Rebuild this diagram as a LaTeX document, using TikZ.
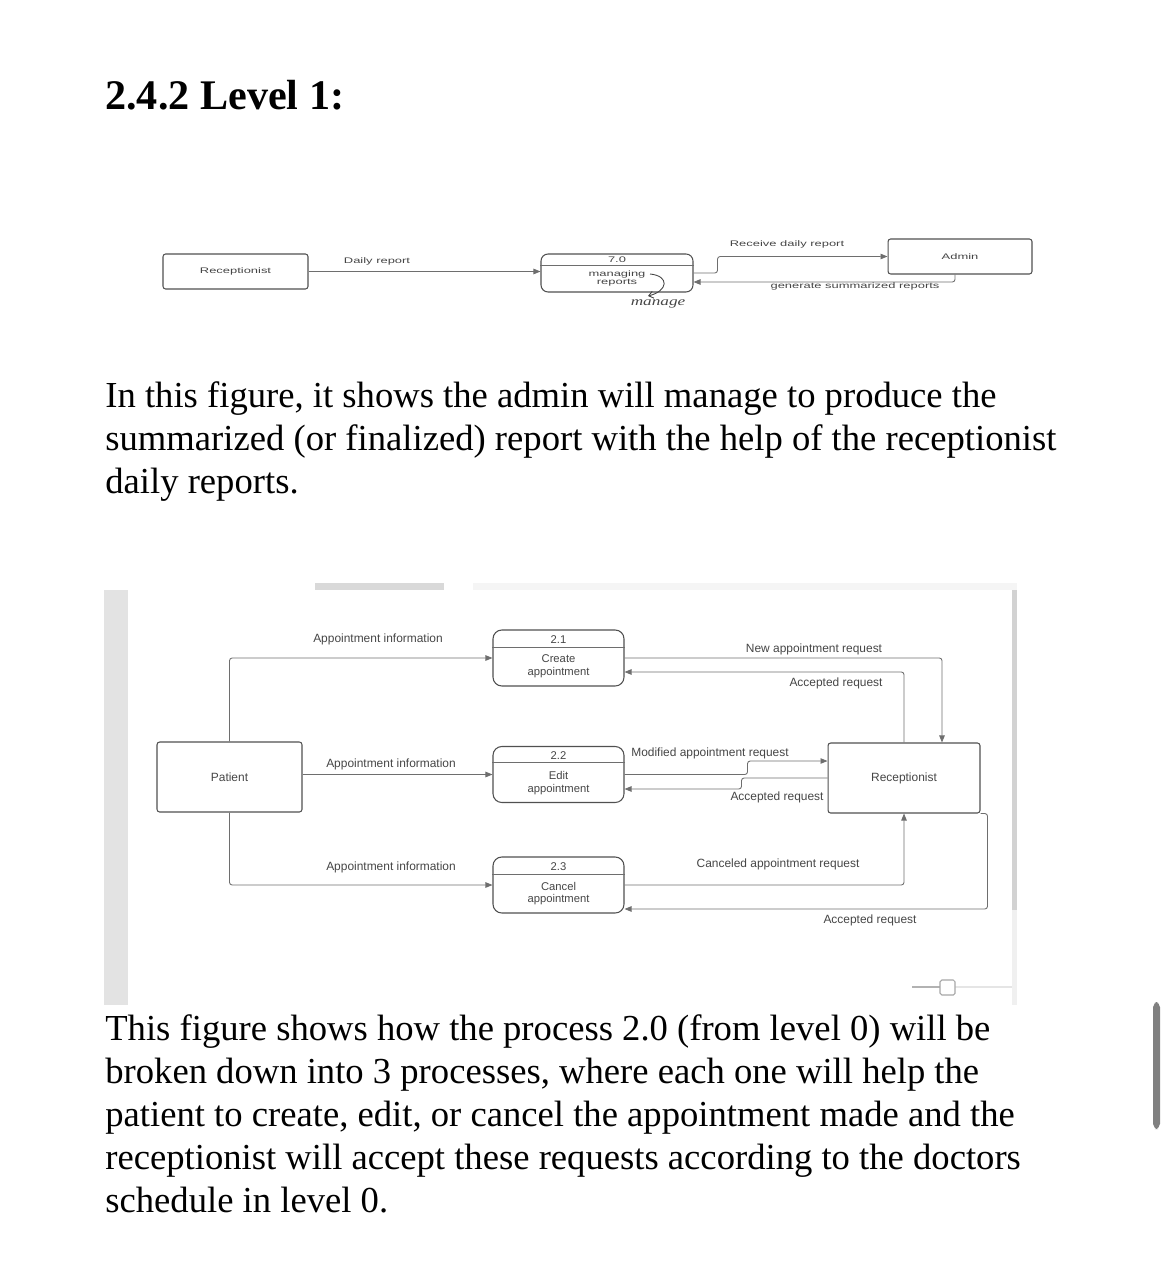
\documentclass[tikz,border=0pt]{standalone}
\usepackage{fontspec}
\setmainfont{Liberation Serif}
\newfontfamily\dfdfont{Liberation Sans}
\usepackage{graphicx}
\usetikzlibrary{positioning,arrows.meta,calc}
\definecolor{lnc}{HTML}{6E6E6E}
\definecolor{bxc}{HTML}{505050}
\definecolor{txc}{HTML}{454545}
\newcommand{\stretchx}[1]{\scalebox{1.6}[1]{#1}}
\tikzset{
  ent/.style   = {draw=bxc, line width=0.6pt, rounded corners=1.5pt, inner sep=0pt,
                  font=\dfdfont\fontsize{6.8}{8}\selectfont, text=txc},
  tent/.style  = {ent, font=\dfdfont\fontsize{4.6}{5.5}\selectfont},
  proc/.style  = {draw=bxc, line width=0.6pt, rounded corners=5pt, inner sep=0pt,
                  minimum width=2.62cm, minimum height=1.12cm},
  div/.style   = {draw=lnc, line width=0.4pt},
  ptxt/.style  = {font=\dfdfont\fontsize{6.4}{7.2}\selectfont, text=txc,
                  align=center, inner sep=0pt},
  lbl/.style   = {font=\dfdfont\fontsize{6.8}{8}\selectfont, text=txc, inner sep=0pt},
  tlbl/.style  = {font=\dfdfont\fontsize{4.6}{4.8}\selectfont, text=txc,
                  align=center, inner sep=0pt},
  ar/.style    = {-{Triangle[length=1.4mm,width=1.1mm]}, draw=lnc, line width=0.5pt,
                  rounded corners=1.5pt},
  hand/.style  = {-{Straight Barb[length=0.9mm,width=1.4mm]}, draw=txc, line width=0.5pt},
  para/.style  = {anchor=base west, inner sep=0pt, font=\fontsize{20.85}{24}\selectfont},
  head/.style  = {anchor=base west, inner sep=0pt, font=\bfseries\fontsize{24}{28}\selectfont},
}
\begin{document}
\begin{tikzpicture}[x=0.02cm, y=-0.02cm]
\useasboundingbox (0,0) rectangle (1170,1263);
\node[head] (hd) at (105,110) {2.4.2 Level 1:};

% level 1: process 7.0
\node[tent, minimum width=2.9cm, minimum height=0.7cm] (rcp) at (235.5,271.5) {\stretchx{Receptionist}};
\node[proc, minimum width=3.04cm, minimum height=0.76cm, rounded corners=4pt] (p70) at (617,273) {};
\draw[div] ([yshift=-0.24cm]p70.north west) -- ([yshift=-0.24cm]p70.north east);
\node[tlbl] (p70n) at ([yshift=-0.12cm]p70.north) {\stretchx{7.0}};
\node[tlbl] (p70t) at ([yshift=0.28cm]p70.south) {\stretchx{managing}\\\stretchx{reports}};
\node[tent, minimum width=2.88cm, minimum height=0.7cm] (adm) at (960,256.5) {\stretchx{Admin}};
\draw[ar] (rcp.east) -- (rcp.east -| p70.west);
\draw[ar] (p70.east) -- ++(24,0) |- (adm.west);
\draw[ar] ([xshift=-0.1cm]adm.south) |- ([yshift=-0.18cm]p70.east);
\node[tlbl] (lday) at (377,261) {\stretchx{Daily report}};
\node[tlbl] (lrcv) at (787,244) {\stretchx{Receive daily report}};
\node[tlbl] (lgen) at (855,286) {\stretchx{generate summarized reports}};
\coordinate (hs) at (650,274);
\node[font=\itshape\fontsize{7}{8}\selectfont, text=txc, inner sep=0pt] (hw) at (658,304) {\scalebox{1.4}[1]{manage}};
\draw[hand] (hs) .. controls (670,276) and (668,291) .. (648,296);

\node[para] (pa1) at (105,407) {In this figure, it shows the admin will manage to produce the};
\node[para] (pa2) at (105,450) {summarized (or finalized) report with the help of the receptionist};
\node[para] (pa3) at (105,493) {daily reports.};

% level 1: process 2.0, screenshot frame
\fill[gray!22] (104,590) rectangle (128,1005);
\fill[gray!30] (315,583) rectangle (444,590);
\fill[gray!8] (473,583) rectangle (1017,590);
\fill[gray!35] (1012,590) rectangle (1017,910);
\fill[gray!12] (1012,910) rectangle (1017,1005);
\draw[gray!60, line width=0.8pt] (912,987) -- (940,987);
\draw[gray!20, line width=0.8pt] (955,987) -- (1012,987);
\draw[gray!70, fill=white, rounded corners=1pt, line width=0.6pt] (940,980) rectangle (955,995);

\node[ent, minimum width=2.9cm, minimum height=1.4cm] (pat) at (229.5,777) {Patient};
\node[proc] (p21) at (558.5,658) {};
\node[proc] (p22) at (558.5,774.5) {};
\node[proc] (p23) at (558.5,885) {};
\node[ent, minimum width=3.04cm, minimum height=1.4cm] (rec) at (904,778) {Receptionist};

\draw[div] ([yshift=-0.36cm]p21.north west) -- ([yshift=-0.36cm]p21.north east);
\draw[div] ([yshift=-0.32cm]p22.north west) -- ([yshift=-0.32cm]p22.north east);
\draw[div] ([yshift=-0.36cm]p23.north west) -- ([yshift=-0.36cm]p23.north east);
\node[ptxt] (p21n) at ([yshift=-0.2cm]p21.north) {2.1};
\node[ptxt] (p21t) at ([yshift=0.4cm]p21.south) {Create\\appointment};
\node[ptxt] (p22n) at ([yshift=-0.2cm]p22.north) {2.2};
\node[ptxt] (p22t) at ([yshift=0.4cm]p22.south) {Edit\\appointment};
\node[ptxt] (p23n) at ([yshift=-0.2cm]p23.north) {2.3};
\node[ptxt] (p23t) at ([yshift=0.4cm]p23.south) {Cancel\\appointment};

\draw[ar] (pat.north) |- (p21.west);
\draw[ar] (pat.east |- p22.west) -- (p22.west);
\draw[ar] (pat.south) |- (p23.west);
\draw[ar] (p21.east) -| ([xshift=0.76cm]rec.north);
\draw[ar] (rec.north) |- ([yshift=-0.28cm]p21.east);
\draw[ar] (p22.east) -- ++(123,0) |- ([yshift=0.34cm]rec.west);
\draw[ar] (rec.west) -- ++(-86,0) |- ([yshift=-0.29cm]p22.east);
\draw[ar] (p23.east) -| (rec.south);
\draw[ar] (rec.south east) -- ++(7,0) |- ([yshift=-0.48cm]p23.east);

\node[lbl] (la1) at (378,639) {Appointment information};
\node[lbl] (la2) at (391,764) {Appointment information};
\node[lbl] (la3) at (391,867) {Appointment information};
\node[lbl] (lnew) at (814,649) {New appointment request};
\node[lbl] (lac1) at (836,683) {Accepted request};
\node[lbl] (lmod) at (710,753) {Modified appointment request};
\node[lbl] (lac2) at (777,797) {Accepted request};
\node[lbl] (lcan) at (778,864) {Canceled appointment request};
\node[lbl] (lac3) at (870,920) {Accepted request};

\node[para] (pb1) at (105,1040) {This figure shows how the process 2.0 (from level 0) will be};
\node[para] (pb2) at (105,1083) {broken down into 3 processes, where each one will help the};
\node[para] (pb3) at (105,1126) {patient to create, edit, or cancel the appointment made and the};
\node[para] (pb4) at (105,1169) {receptionist will accept these requests according to the doctors};
\node[para] (pb5) at (105,1212) {schedule in level 0.};
\fill[gray, rounded corners=3pt] (1153,1002) rectangle (1160,1129);
\end{tikzpicture}
\end{document}
